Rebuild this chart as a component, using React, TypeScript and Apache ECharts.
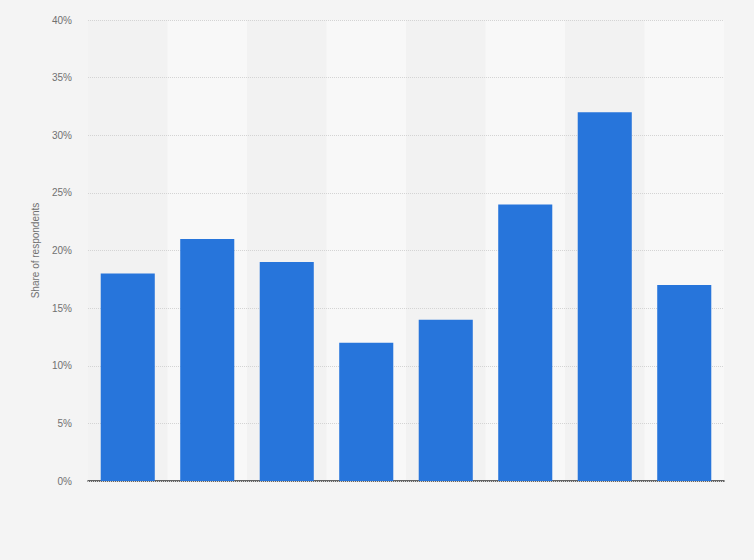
import React, { useEffect, useRef } from "react";
import * as echarts from "echarts";

const categories = ["A", "B", "C", "D", "E", "F", "G", "H"];
const shares = [18, 21, 19, 12, 14, 24, 32, 17];
const yTicks = [0, 5, 10, 15, 20, 25, 30, 35, 40];

export default function App() {
  const ref = useRef<HTMLDivElement>(null);
  useEffect(() => {
    document.body.style.margin = "0";
    const chart = echarts.init(ref.current!, null, { renderer: "svg" });
    chart.setOption({
      animation: false,
      backgroundColor: "#f4f4f4",
      grid: { left: 88, right: 30, top: 20, bottom: 79, containLabel: false },
      xAxis: {
        type: "category",
        data: categories,
        z: 0,
        axisLine: { show: true, lineStyle: { color: "#333", width: 1.5 } },
        axisTick: { show: false },
        axisLabel: { show: false },
        splitArea: {
          show: true,
          areaStyle: { color: ["#f2f2f2", "#f8f8f8"] },
        },
      },
      yAxis: {
        type: "value",
        z: 1,
        min: yTicks[0],
        max: yTicks[yTicks.length - 1],
        interval: 5,
        name: "Share of respondents",
        nameLocation: "middle",
        nameGap: 48,
        nameTextStyle: { color: "#707070", fontSize: 10, fontFamily: "Liberation Sans, Arial, sans-serif" },
        axisLine: { show: false },
        axisTick: { show: false },
        axisLabel: {
          formatter: "{value}%",
          color: "#707070",
          fontSize: 10,
          margin: 16,
          fontFamily: "Liberation Sans, Arial, sans-serif",
        },
        splitLine: { show: true, lineStyle: { color: "#d4d4d4", type: "dotted", width: 1 } },
      },
      series: [
        {
          type: "bar",
          z: 2,
          data: shares,
          barWidth: "68%",
          itemStyle: { color: "#2775db" },
        },
      ],
    });
    return () => chart.dispose();
  }, []);
  return <div ref={ref} style={{ width: 754, height: 560 }} />;
}
